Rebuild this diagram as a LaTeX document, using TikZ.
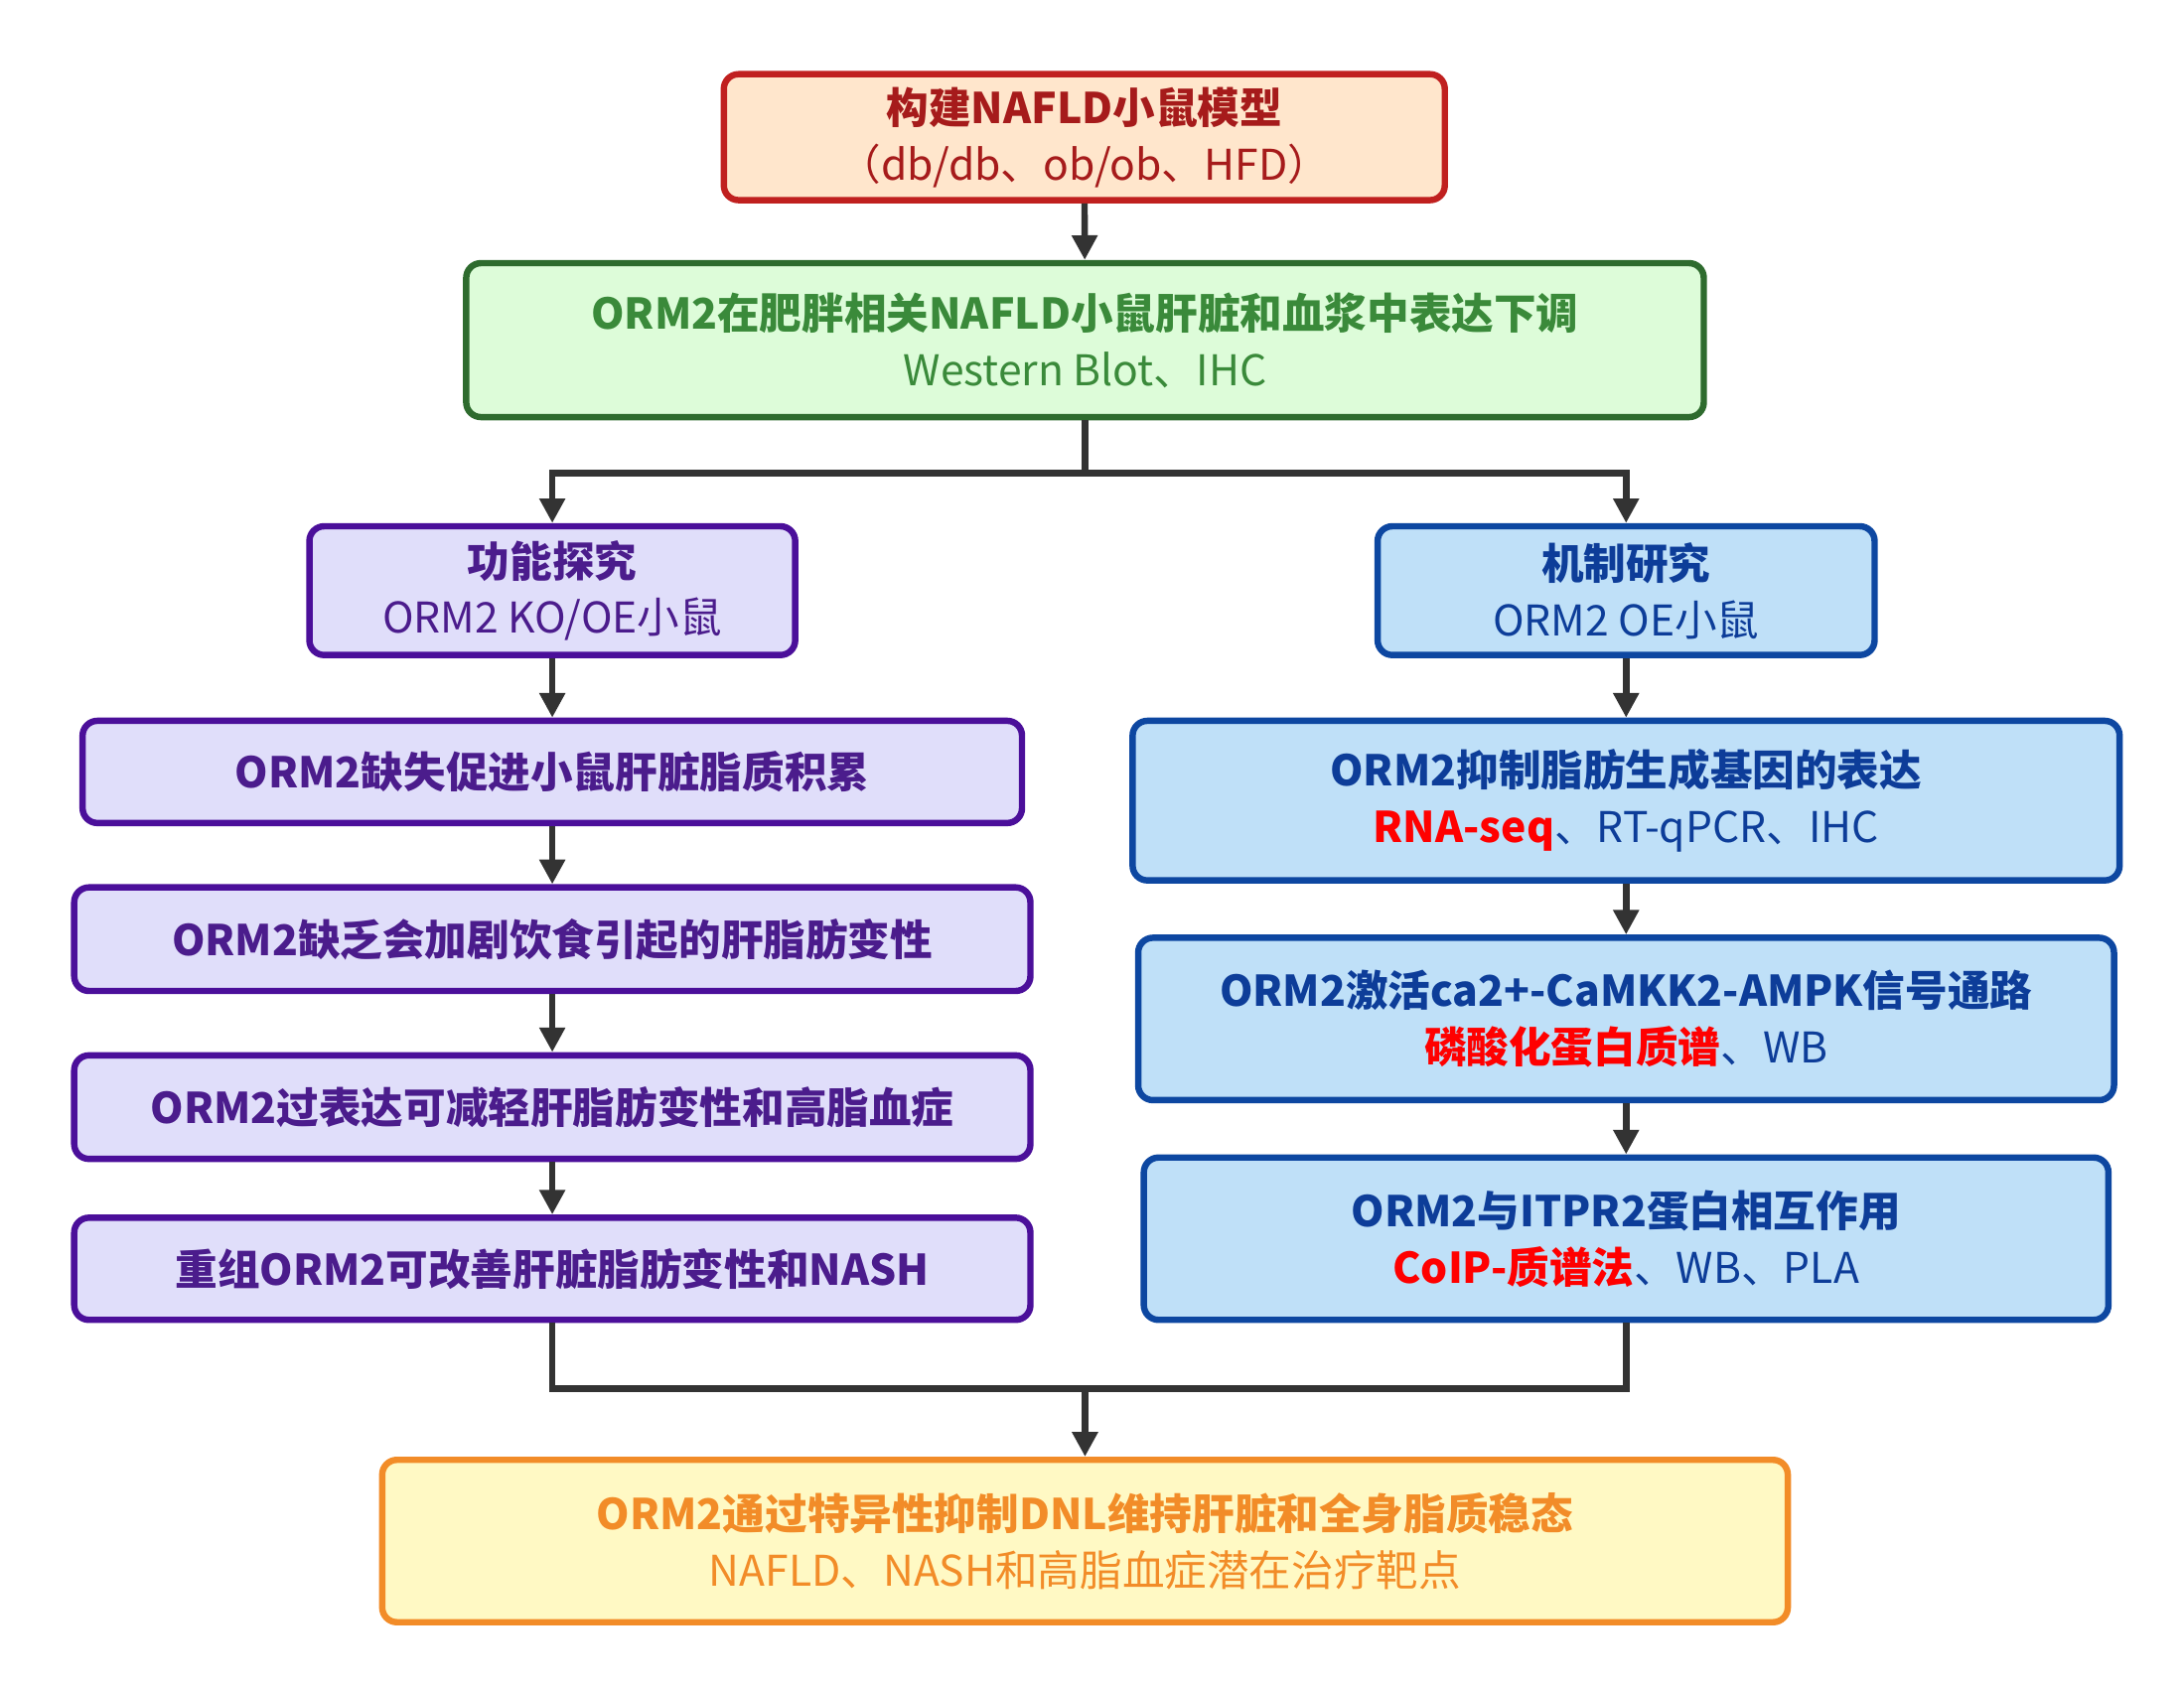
\documentclass[tikz,border=0pt]{standalone}
\usepackage{fontspec}
\setmainfont{Noto Sans CJK SC}
\usetikzlibrary{arrows.meta}
\definecolor{redline}{HTML}{C0201F}\definecolor{redfill}{HTML}{FFE6CC}\definecolor{redtext}{HTML}{A61B1B}
\definecolor{greenline}{HTML}{2E6B2E}\definecolor{greenfill}{HTML}{DDFCD9}\definecolor{greentext}{HTML}{3A8A3A}
\definecolor{purpleline}{HTML}{4B0F9A}\definecolor{purplefill}{HTML}{E0DEFA}\definecolor{purpletext}{HTML}{4B1C8C}
\definecolor{blueline}{HTML}{0D47A1}\definecolor{bluefill}{HTML}{BFE0F8}\definecolor{bluetext}{HTML}{0D3D99}
\definecolor{orangeline}{HTML}{F28C28}\definecolor{orangefill}{HTML}{FFF9C4}
\definecolor{arrowgray}{HTML}{333333}
\tikzset{
  box/.style={draw, line width=1.3pt, rounded corners=3pt, align=center, inner sep=0pt,
    font=\fontsize{8.6}{11.5}\selectfont},
  redbox/.style={box, draw=redline, fill=redfill, text=redtext},
  greenbox/.style={box, draw=greenline, fill=greenfill, text=greentext},
  purplebox/.style={box, draw=purpleline, fill=purplefill, text=purpletext},
  bluebox/.style={box, draw=blueline, fill=bluefill, text=bluetext},
  orangebox/.style={box, draw=orangeline, fill=orangefill, text=orangeline},
  flow/.style={draw=arrowgray, line width=1.3pt, -{Triangle[length=5pt,width=5pt]}},
  link/.style={draw=arrowgray, line width=1.3pt}
}
\newcommand{\hl}[1]{\textcolor{red}{\textbf{#1}}}
\begin{document}
\begin{tikzpicture}[x=0.1mm,y=-0.1mm]
  \useasboundingbox (0,0) rectangle (1560,1206);
  \node[redbox, minimum width=51.5mm, minimum height=9mm] (model) at (774.5,98) {\textbf{构建NAFLD小鼠模型}\\（db/db、ob/ob、HFD）};
  \node[greenbox, minimum width=88.4mm, minimum height=11mm] (down) at (775,243) {\textbf{ORM2在肥胖相关NAFLD小鼠肝脏和血浆中表达下调}\\Western Blot、IHC};
  \node[purplebox, minimum width=34.7mm, minimum height=9.2mm] (func) at (394.5,422) {\textbf{功能探究}\\ORM2 KO/OE小鼠};
  \node[purplebox, minimum width=67.1mm, minimum height=7.3mm] (lossa) at (394.5,551.5) {\textbf{ORM2缺失促进小鼠肝脏脂质积累}};
  \node[purplebox, minimum width=68.3mm, minimum height=7.4mm] (lossb) at (394.5,671) {\textbf{ORM2缺乏会加剧饮食引起的肝脂肪变性}};
  \node[purplebox, minimum width=68.3mm, minimum height=7.4mm] (over) at (394.5,791) {\textbf{ORM2过表达可减轻肝脂肪变性和高脂血症}};
  \node[purplebox, minimum width=68.3mm, minimum height=7.3mm] (recomb) at (394.5,906.5) {\textbf{重组ORM2可改善肝脏脂肪变性和NASH}};
  \node[bluebox, minimum width=35.5mm, minimum height=9.2mm] (mech) at (1161.5,422) {\textbf{机制研究}\\ORM2 OE小鼠};
  \node[bluebox, minimum width=70.5mm, minimum height=11.4mm] (lipo) at (1161.5,572) {\textbf{ORM2抑制脂肪生成基因的表达}\\\hl{RNA-seq}、RT-qPCR、IHC};
  \node[bluebox, minimum width=69.7mm, minimum height=11.6mm] (ampk) at (1161.5,728) {\textbf{ORM2激活ca2+-CaMKK2-AMPK信号通路}\\\hl{磷酸化蛋白质谱}、WB};
  \node[bluebox, minimum width=68.9mm, minimum height=11.6mm] (itpr) at (1161.5,885) {\textbf{ORM2与ITPR2蛋白相互作用}\\\hl{CoIP-质谱法}、WB、PLA};
  \node[orangebox, minimum width=100.4mm, minimum height=11.6mm] (target) at (775,1101) {\textbf{ORM2通过特异性抑制DNL维持肝脏和全身脂质稳态}\\NAFLD、NASH和高脂血症潜在治疗靶点};
  \coordinate (split) at (775,338);
  \coordinate (merge) at (775,992);
  \draw[flow] (model) -- (down);
  \draw[link] (down.south) -- (split);
  \draw[flow] (split) -| (func.north);
  \draw[flow] (split) -| (mech.north);
  \draw[flow] (func) -- (lossa);
  \draw[flow] (lossa) -- (lossb);
  \draw[flow] (lossb) -- (over);
  \draw[flow] (over) -- (recomb);
  \draw[flow] (mech) -- (lipo);
  \draw[flow] (lipo) -- (ampk);
  \draw[flow] (ampk) -- (itpr);
  \draw[link] (recomb.south) |- (merge);
  \draw[link] (itpr.south) |- (merge);
  \draw[flow] (merge) -- (target);
\end{tikzpicture}
\end{document}
